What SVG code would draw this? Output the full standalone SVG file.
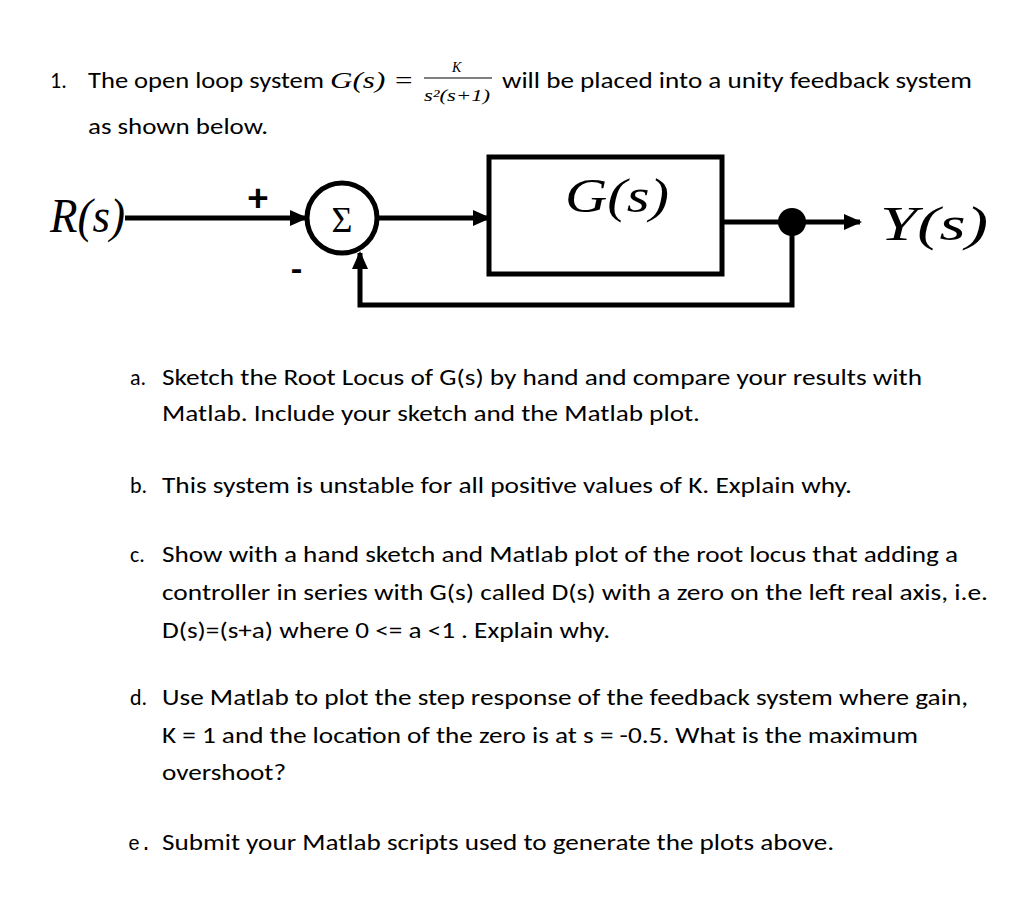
<svg xmlns="http://www.w3.org/2000/svg" width="1024" height="910" viewBox="0 0 1024 910">
<defs>
<style>
.t{font-family:Carlito,"Liberation Sans",Arial,sans-serif;font-size:22px;fill:#000}
.m{font-family:"Liberation Serif","DejaVu Serif",serif;font-style:italic;fill:#000}
.w{stroke:#000;stroke-width:5;fill:none}
</style>
<marker id="ah" markerWidth="18" markerHeight="16" refX="16" refY="8" orient="auto" markerUnits="userSpaceOnUse"><path d="M0,0L18,8L0,16z" fill="#000"/></marker>
</defs>
<rect width="1024" height="910" fill="#fff"/>
<text class="t" x="50" y="88">1.</text>
<text class="t" x="88" y="88" textLength="236" lengthAdjust="spacingAndGlyphs">The open loop system</text>
<text class="m" x="330" y="88" style="font-size:24px" textLength="84" lengthAdjust="spacingAndGlyphs">G(s) =</text>
<text class="m" x="452" y="72" style="font-size:14px">K</text>
<line x1="424" y1="78" x2="492" y2="78" stroke="#000" stroke-width="1.2"/>
<text class="m" x="424" y="101" style="font-size:16px" textLength="66" lengthAdjust="spacingAndGlyphs">s²(s+1)</text>
<text class="t" x="502" y="88" textLength="470" lengthAdjust="spacingAndGlyphs">will be placed into a unity feedback system</text>
<text class="t" x="88" y="134" textLength="180" lengthAdjust="spacingAndGlyphs">as shown below.</text>
<g id="connectors">
<line class="w" x1="125" y1="218" x2="306" y2="218" marker-end="url(#ah)"/>
<line class="w" x1="378" y1="218" x2="489" y2="218" marker-end="url(#ah)"/>
<line class="w" x1="722" y1="222" x2="860" y2="222" marker-end="url(#ah)"/>
<polyline class="w" points="792,222 792,305 360,305 360,253" marker-end="url(#ah)"/>
<circle cx="792" cy="222" r="14" fill="#000"/>
</g>
<g id="R"><text class="m" x="50" y="232" style="font-size:48px" textLength="75" lengthAdjust="spacingAndGlyphs">R(s)</text></g>
<text class="t" x="248" y="211" style="font-size:40px;font-weight:bold">+</text>
<text class="t" x="291" y="282" style="font-size:36px;font-weight:bold">-</text>
<g id="sum"><circle class="w" cx="342" cy="218" r="35"/><text x="342" y="232" text-anchor="middle" font-family="Liberation Serif,serif" font-size="36">Σ</text></g>
<g id="G"><rect class="w" x="489" y="157" width="233" height="117"/><text class="m" x="565" y="212" style="font-size:48px" textLength="104" lengthAdjust="spacingAndGlyphs">G(s)</text></g>
<g id="Y"><text class="m" x="880" y="240" style="font-size:48px" textLength="108" lengthAdjust="spacingAndGlyphs">Y(s)</text></g>
<text class="t" x="130" y="385">a.</text>
<text class="t" x="162" y="385" textLength="760" lengthAdjust="spacingAndGlyphs">Sketch the Root Locus of G(s) by hand and compare your results with</text>
<text class="t" x="162" y="421" textLength="538" lengthAdjust="spacingAndGlyphs">Matlab. Include your sketch and the Matlab plot.</text>
<text class="t" x="130" y="493">b.</text>
<text class="t" x="162" y="493" textLength="690" lengthAdjust="spacingAndGlyphs">This system is unstable for all positive values of K. Explain why.</text>
<text class="t" x="130" y="562">c.</text>
<text class="t" x="162" y="562" textLength="796" lengthAdjust="spacingAndGlyphs">Show with a hand sketch and Matlab plot of the root locus that adding a</text>
<text class="t" x="162" y="600" textLength="826" lengthAdjust="spacingAndGlyphs">controller in series with G(s) called D(s) with a zero on the left real axis, i.e.</text>
<text class="t" x="162" y="638" textLength="448" lengthAdjust="spacingAndGlyphs">D(s)=(s+a) where 0 &lt;= a &lt;1 . Explain why.</text>
<text class="t" x="130" y="705">d.</text>
<text class="t" x="162" y="705" textLength="806" lengthAdjust="spacingAndGlyphs">Use Matlab to plot the step response of the feedback system where gain,</text>
<text class="t" x="162" y="743" textLength="756" lengthAdjust="spacingAndGlyphs">K = 1 and the location of the zero is at s = -0.5. What is the maximum</text>
<text class="t" x="162" y="780" textLength="124" lengthAdjust="spacingAndGlyphs">overshoot?</text>
<text x="128" y="850" font-family="Liberation Mono,monospace" font-size="20">e.</text>
<text class="t" x="162" y="850" textLength="672" lengthAdjust="spacingAndGlyphs">Submit your Matlab scripts used to generate the plots above.</text>
</svg>
